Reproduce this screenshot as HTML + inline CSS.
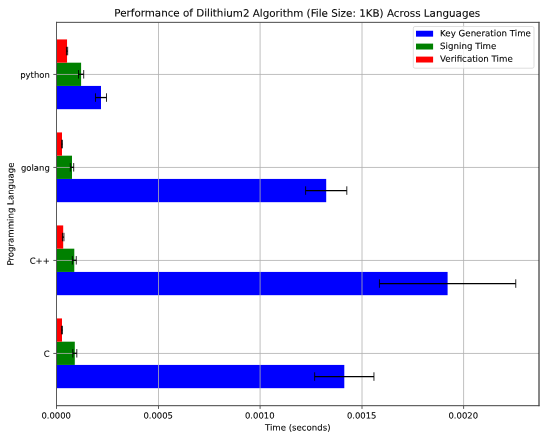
<!DOCTYPE html><html><head><meta charset="utf-8"><title>Performance of Dilithium2 Algorithm</title><style>
html,body{margin:0;padding:0;background:#fff;}
svg{display:block;}
text{font-family:"DejaVu Sans","Liberation Sans",sans-serif;fill:#000;stroke:#000;stroke-width:0.08px;}
</style></head><body>
<svg width="550" height="441" viewBox="0 0 550 441">
<rect x="0" y="0" width="550" height="441" fill="#fff"/>
<rect x="56.50" y="85.93" width="44.50" height="23.25" fill="#0000ff"/>
<rect x="56.50" y="62.68" width="24.60" height="23.25" fill="#008000"/>
<rect x="56.50" y="39.43" width="10.55" height="23.25" fill="#ff0000"/>
<rect x="56.50" y="178.93" width="269.70" height="23.25" fill="#0000ff"/>
<rect x="56.50" y="155.68" width="15.50" height="23.25" fill="#008000"/>
<rect x="56.50" y="132.43" width="5.50" height="23.25" fill="#ff0000"/>
<rect x="56.50" y="271.93" width="391.10" height="23.25" fill="#0000ff"/>
<rect x="56.50" y="248.68" width="17.80" height="23.25" fill="#008000"/>
<rect x="56.50" y="225.43" width="6.70" height="23.25" fill="#ff0000"/>
<rect x="56.50" y="364.93" width="287.80" height="23.25" fill="#0000ff"/>
<rect x="56.50" y="341.68" width="18.30" height="23.25" fill="#008000"/>
<rect x="56.50" y="318.43" width="5.50" height="23.25" fill="#ff0000"/>
<line x1="56.50" y1="22.35" x2="56.50" y2="405.7" stroke="#b0b0b0" stroke-width="0.8"/>
<line x1="158.50" y1="22.35" x2="158.50" y2="405.7" stroke="#b0b0b0" stroke-width="0.8"/>
<line x1="260.10" y1="22.35" x2="260.10" y2="405.7" stroke="#b0b0b0" stroke-width="0.8"/>
<line x1="362.00" y1="22.35" x2="362.00" y2="405.7" stroke="#b0b0b0" stroke-width="0.8"/>
<line x1="463.60" y1="22.35" x2="463.60" y2="405.7" stroke="#b0b0b0" stroke-width="0.8"/>
<line x1="56.5" y1="353.45" x2="539.0" y2="353.45" stroke="#b0b0b0" stroke-width="0.8"/>
<line x1="56.5" y1="260.45" x2="539.0" y2="260.45" stroke="#b0b0b0" stroke-width="0.8"/>
<line x1="56.5" y1="167.45" x2="539.0" y2="167.45" stroke="#b0b0b0" stroke-width="0.8"/>
<line x1="56.5" y1="74.45" x2="539.0" y2="74.45" stroke="#b0b0b0" stroke-width="0.8"/>
<line x1="95.50" y1="97.55" x2="106.50" y2="97.55" stroke="#000" stroke-width="1.3"/>
<line x1="95.50" y1="93.30" x2="95.50" y2="101.80" stroke="#000" stroke-width="0.85"/>
<line x1="106.50" y1="93.30" x2="106.50" y2="101.80" stroke="#000" stroke-width="0.85"/>
<line x1="78.50" y1="74.30" x2="83.70" y2="74.30" stroke="#000" stroke-width="1.3"/>
<line x1="78.50" y1="70.05" x2="78.50" y2="78.55" stroke="#000" stroke-width="0.85"/>
<line x1="83.70" y1="70.05" x2="83.70" y2="78.55" stroke="#000" stroke-width="0.85"/>
<line x1="66.45" y1="51.05" x2="67.65" y2="51.05" stroke="#000" stroke-width="1.3"/>
<line x1="66.45" y1="46.80" x2="66.45" y2="55.30" stroke="#000" stroke-width="0.85"/>
<line x1="67.65" y1="46.80" x2="67.65" y2="55.30" stroke="#000" stroke-width="0.85"/>
<line x1="305.60" y1="190.55" x2="346.80" y2="190.55" stroke="#000" stroke-width="1.3"/>
<line x1="305.60" y1="186.30" x2="305.60" y2="194.80" stroke="#000" stroke-width="0.85"/>
<line x1="346.80" y1="186.30" x2="346.80" y2="194.80" stroke="#000" stroke-width="0.85"/>
<line x1="70.30" y1="167.30" x2="73.70" y2="167.30" stroke="#000" stroke-width="1.3"/>
<line x1="70.30" y1="163.05" x2="70.30" y2="171.55" stroke="#000" stroke-width="0.85"/>
<line x1="73.70" y1="163.05" x2="73.70" y2="171.55" stroke="#000" stroke-width="0.85"/>
<line x1="61.65" y1="144.05" x2="62.35" y2="144.05" stroke="#000" stroke-width="1.3"/>
<line x1="61.65" y1="139.80" x2="61.65" y2="148.30" stroke="#000" stroke-width="0.85"/>
<line x1="62.35" y1="139.80" x2="62.35" y2="148.30" stroke="#000" stroke-width="0.85"/>
<line x1="379.45" y1="283.55" x2="515.75" y2="283.55" stroke="#000" stroke-width="1.3"/>
<line x1="379.45" y1="279.30" x2="379.45" y2="287.80" stroke="#000" stroke-width="0.85"/>
<line x1="515.75" y1="279.30" x2="515.75" y2="287.80" stroke="#000" stroke-width="0.85"/>
<line x1="72.35" y1="260.30" x2="76.25" y2="260.30" stroke="#000" stroke-width="1.3"/>
<line x1="72.35" y1="256.05" x2="72.35" y2="264.55" stroke="#000" stroke-width="0.85"/>
<line x1="76.25" y1="256.05" x2="76.25" y2="264.55" stroke="#000" stroke-width="0.85"/>
<line x1="62.45" y1="237.05" x2="63.95" y2="237.05" stroke="#000" stroke-width="1.3"/>
<line x1="62.45" y1="232.80" x2="62.45" y2="241.30" stroke="#000" stroke-width="0.85"/>
<line x1="63.95" y1="232.80" x2="63.95" y2="241.30" stroke="#000" stroke-width="0.85"/>
<line x1="314.65" y1="376.55" x2="373.95" y2="376.55" stroke="#000" stroke-width="1.3"/>
<line x1="314.65" y1="372.30" x2="314.65" y2="380.80" stroke="#000" stroke-width="0.85"/>
<line x1="373.95" y1="372.30" x2="373.95" y2="380.80" stroke="#000" stroke-width="0.85"/>
<line x1="72.80" y1="353.30" x2="76.80" y2="353.30" stroke="#000" stroke-width="1.3"/>
<line x1="72.80" y1="349.05" x2="72.80" y2="357.55" stroke="#000" stroke-width="0.85"/>
<line x1="76.80" y1="349.05" x2="76.80" y2="357.55" stroke="#000" stroke-width="0.85"/>
<line x1="61.60" y1="330.05" x2="62.40" y2="330.05" stroke="#000" stroke-width="1.3"/>
<line x1="61.60" y1="325.80" x2="61.60" y2="334.30" stroke="#000" stroke-width="0.85"/>
<line x1="62.40" y1="325.80" x2="62.40" y2="334.30" stroke="#000" stroke-width="0.85"/>
<line x1="56.5" y1="21.85" x2="56.5" y2="406.2" stroke="#5a5a5a" stroke-width="1"/>
<line x1="539.0" y1="21.85" x2="539.0" y2="406.2" stroke="#111" stroke-width="1"/>
<line x1="56.0" y1="22.35" x2="539.5" y2="22.35" stroke="#4a4a4a" stroke-width="1"/>
<line x1="56.0" y1="405.7" x2="539.5" y2="405.7" stroke="#404040" stroke-width="1"/>
<line x1="56.50" y1="405.7" x2="56.50" y2="408.9" stroke="#5a5a5a" stroke-width="1"/>
<text x="56.15" y="418.50" font-size="8.45" text-anchor="middle" transform="rotate(0.05 56.15 418.50)">0.0000</text>
<line x1="158.50" y1="405.7" x2="158.50" y2="408.9" stroke="#5a5a5a" stroke-width="1"/>
<text x="158.15" y="418.50" font-size="8.45" text-anchor="middle" transform="rotate(0.05 158.15 418.50)">0.0005</text>
<line x1="260.10" y1="405.7" x2="260.10" y2="408.9" stroke="#5a5a5a" stroke-width="1"/>
<text x="259.75" y="418.50" font-size="8.45" text-anchor="middle" transform="rotate(0.05 259.75 418.50)">0.0010</text>
<line x1="362.00" y1="405.7" x2="362.00" y2="408.9" stroke="#5a5a5a" stroke-width="1"/>
<text x="361.65" y="418.50" font-size="8.45" text-anchor="middle" transform="rotate(0.05 361.65 418.50)">0.0015</text>
<line x1="463.60" y1="405.7" x2="463.60" y2="408.9" stroke="#5a5a5a" stroke-width="1"/>
<text x="463.25" y="418.50" font-size="8.45" text-anchor="middle" transform="rotate(0.05 463.25 418.50)">0.0020</text>
<line x1="53.3" y1="353.45" x2="56.5" y2="353.45" stroke="#5a5a5a" stroke-width="1"/>
<text x="49.75" y="356.70" font-size="8.45" text-anchor="end" transform="rotate(0.05 49.75 356.70)">C</text>
<line x1="53.3" y1="260.45" x2="56.5" y2="260.45" stroke="#5a5a5a" stroke-width="1"/>
<text x="49.75" y="263.70" font-size="8.45" text-anchor="end" transform="rotate(0.05 49.75 263.70)">C++</text>
<line x1="53.3" y1="167.45" x2="56.5" y2="167.45" stroke="#5a5a5a" stroke-width="1"/>
<text x="49.75" y="170.70" font-size="8.45" text-anchor="end" transform="rotate(0.05 49.75 170.70)">golang</text>
<line x1="53.3" y1="74.45" x2="56.5" y2="74.45" stroke="#5a5a5a" stroke-width="1"/>
<text x="49.75" y="77.70" font-size="8.45" text-anchor="end" transform="rotate(0.05 49.75 77.70)">python</text>
<text x="297.75" y="430.60" font-size="8.61" text-anchor="middle" transform="rotate(0.05 297.75 430.60)">Time (seconds)</text>
<text x="13.60" y="214.03" font-size="8.61" text-anchor="middle" transform="rotate(-89.95 13.60 214.03)">Programming Language</text>
<text x="297.25" y="16.70" font-size="10.345" text-anchor="middle" transform="rotate(0.05 297.25 16.70)">Performance of Dilithium2 Algorithm (File Size: 1KB) Across Languages</text>
<rect x="413.3" y="26.5" width="120.70" height="41.70" rx="1.7" ry="1.7" fill="#fff" fill-opacity="0.8" stroke="#d8d8d8" stroke-width="0.85"/>
<rect x="416.0" y="30.75" width="17.1" height="5.9" fill="#0000ff"/>
<text x="440.10" y="36.20" font-size="8.68" transform="rotate(0.05 440.10 36.20)">Key Generation Time</text>
<rect x="416.0" y="43.60" width="17.1" height="5.9" fill="#008000"/>
<text x="440.10" y="49.00" font-size="8.68" transform="rotate(0.05 440.10 49.00)">Signing Time</text>
<rect x="416.0" y="56.60" width="17.1" height="5.9" fill="#ff0000"/>
<text x="440.10" y="61.80" font-size="8.68" transform="rotate(0.05 440.10 61.80)">Verification Time</text>
</svg></body></html>
